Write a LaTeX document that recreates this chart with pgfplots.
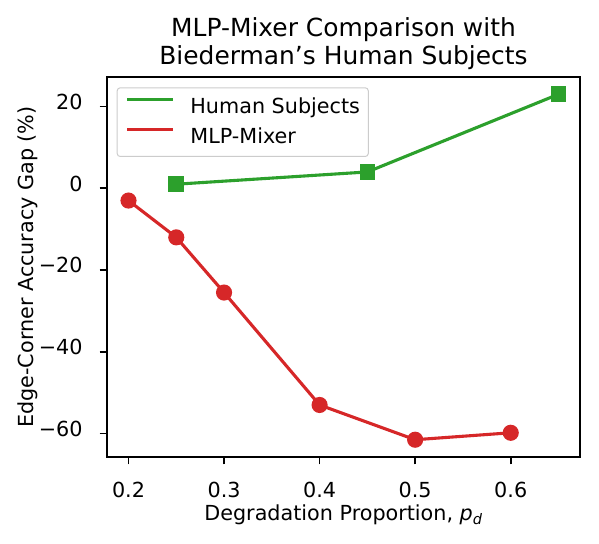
\documentclass[border=0pt]{standalone}
\usepackage{fontspec}
\setmainfont{DejaVu Sans}
\usepackage{pgfplots}
\pgfplotsset{compat=1.18}
\definecolor{tabgreen}{HTML}{2CA02C}
\definecolor{tabred}{HTML}{D62728}
\begin{document}
\begin{tikzpicture}
\begin{axis}[
  at={(0,0)}, anchor=south west,
  scale only axis, width=473bp, height=380bp,
  xmin=0.1775, xmax=0.6725, ymin=-65.725, ymax=27.225,
  xtick={0.2,0.3,0.4,0.5,0.6}, xticklabels={0.2,0.3,0.4,0.5,0.6},
  ytick={-60,-40,-20,0,20}, yticklabels={−60,−40,−20,0,20},
  xtick pos=lower, ytick pos=left,
  tick align=outside, major tick length=7.3bp,
  every tick/.style={line width=1.67bp, black},
  axis line style={line width=1.67bp, black},
  ticklabel style={font=\fontsize{20.8}{24}\selectfont, inner sep=0pt},
  xticklabel style={anchor=base, yshift=-33bp},
  yticklabel style={anchor=mid east, xshift=-17bp},
  clip=false,
  legend style={at={(rel axis cs:0,1)}, anchor=north west, xshift=9.7bp, yshift=-10.3bp,
    draw=black!20, line width=1bp, rounded corners=3bp, fill=white,
    inner xsep=8.3bp, inner ysep=9bp,
    font=\fontsize{20.8}{25}\selectfont,
    nodes={inner sep=0pt, text height=17bp, text depth=3.7bp},
    row sep=9.3bp, column sep=16bp, cells={anchor=west}},
  legend image code/.code={\draw[mark=none,#1] (0bp,8bp) -- (45.8bp,8bp);},
]
\addplot[tabgreen, line width=3.1bp, mark=square*, mark size=6.25bp, mark options={solid, fill=tabgreen}]
  coordinates {(0.25,1) (0.45,4) (0.65,23)};
\addlegendentry{Human Subjects}
\addplot[tabred, line width=3.1bp, mark=*, mark size=6.5bp, mark options={solid, fill=tabred}]
  coordinates {(0.2,-3) (0.25,-12) (0.3,-25.5) (0.4,-53) (0.5,-61.5) (0.6,-59.8)};
\addlegendentry{MLP-Mixer}
\end{axis}
\node[anchor=base, font=\fontsize{25}{30}\selectfont, inner sep=0pt] at (236.5bp,420bp) {MLP-Mixer Comparison with};
\node[anchor=base, font=\fontsize{25}{30}\selectfont, inner sep=0pt] at (236.5bp,392bp) {Biederman’s Human Subjects};
\node[anchor=base, font=\fontsize{20.8}{25}\selectfont, inner sep=0pt] at (236.5bp,-63.5bp) {Degradation Proportion, \textit{p}\textsubscript{\textit{d}}};
\node[anchor=base, rotate=90, font=\fontsize{20.8}{25}\selectfont, inner sep=0pt] at (-73.5bp,190bp) {Edge-Corner Accuracy Gap (\%)};
\pgfresetboundingbox
\path (-107bp,-87bp) rectangle (492bp,457bp);
\end{tikzpicture}
\end{document}
